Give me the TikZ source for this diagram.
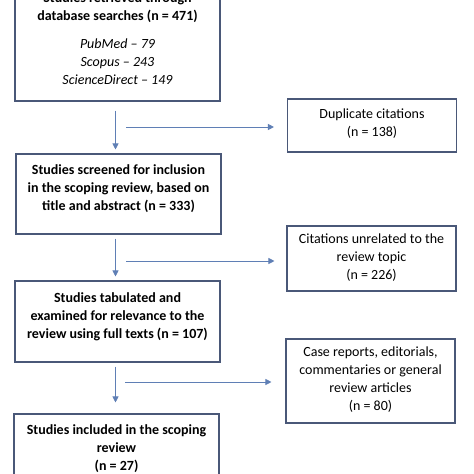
\documentclass[tikz,border=0pt]{standalone}
\usepackage{fontspec}
\setmainfont{Carlito}
\usetikzlibrary{arrows.meta}
\definecolor{boxc}{HTML}{4A5878}
\definecolor{arrc}{HTML}{5F7FB5}
\begin{document}
\begin{tikzpicture}[x=1pt,y=-1pt,
  box/.style={draw=boxc,line width=1.1pt,align=center,font=\fontsize{14}{18}\selectfont,inner sep=0pt},
  lbox/.style={box,minimum width=205pt,font=\fontsize{14}{18}\selectfont\bfseries},
  rbox/.style={box,minimum width=169pt},
  arr/.style={draw=arrc,line width=0.8pt,-{Triangle[width=6pt,length=6pt]}}]
\useasboundingbox[fill=white] (0,0) rectangle (474,474);
\begin{scope}
\clip (0,0) rectangle (474,474);
\node[lbox,minimum height=121pt,text depth=4pt] (b1) at (117.5,40.5) {Studies retrieved through\\database searches (n = 471)\\[10pt]{\mdseries\itshape PubMed – 79}\\{\mdseries\itshape Scopus – 243}\\{\mdseries\itshape ScienceDirect – 149}};
\node[lbox,minimum height=80pt,text depth=12pt] (b2) at (118.5,194) {Studies screened for inclusion\\in the scoping review, based on\\title and abstract (n = 333)};
\node[lbox,minimum height=81pt,text depth=12pt] (b3) at (117.5,321.5) {Studies tabulated and\\examined for relevance to the\\review using full texts (n = 107)};
\node[lbox,minimum height=80pt,text depth=12pt] (b4) at (116.5,454) {Studies included in the scoping\\review\\(n = 27)};
\node[rbox,minimum height=53pt,text depth=6pt] (d1) at (372,125.5) {Duplicate citations\\(n = 138)};
\node[rbox,minimum height=65pt,text depth=4pt] (d2) at (371.5,258.5) {Citations unrelated to the\\review topic\\(n = 226)};
\node[rbox,minimum height=84pt,text depth=4pt] (d3) at (370.5,381) {Case reports, editorials,\\commentaries or general\\review articles\\(n = 80)};
\coordinate (h1) at (126,127);
\coordinate (h2) at (126,261);
\coordinate (h3) at (125,382);
\draw[arr,shorten <=9pt,shorten >=4pt] ([xshift=-2pt]b1.south) -- ([xshift=-2pt]b1.south |- b2.north);
\draw[arr,shorten <=4pt,shorten >=4pt] ([xshift=-3pt]b2.south) -- ([xshift=-3pt]b2.south |- b3.north);
\draw[arr,shorten <=4pt,shorten >=11pt] ([xshift=-2pt]b3.south) -- ([xshift=-2pt]b3.south |- b4.north);
\draw[arr,shorten >=13pt] (h1) -- (h1 -| d1.west);
\draw[arr,shorten >=12pt] (h2) -- (h2 -| d2.west);
\draw[arr,shorten >=14pt] (h3) -- (h3 -| d3.west);
\end{scope}
\end{tikzpicture}
\end{document}
